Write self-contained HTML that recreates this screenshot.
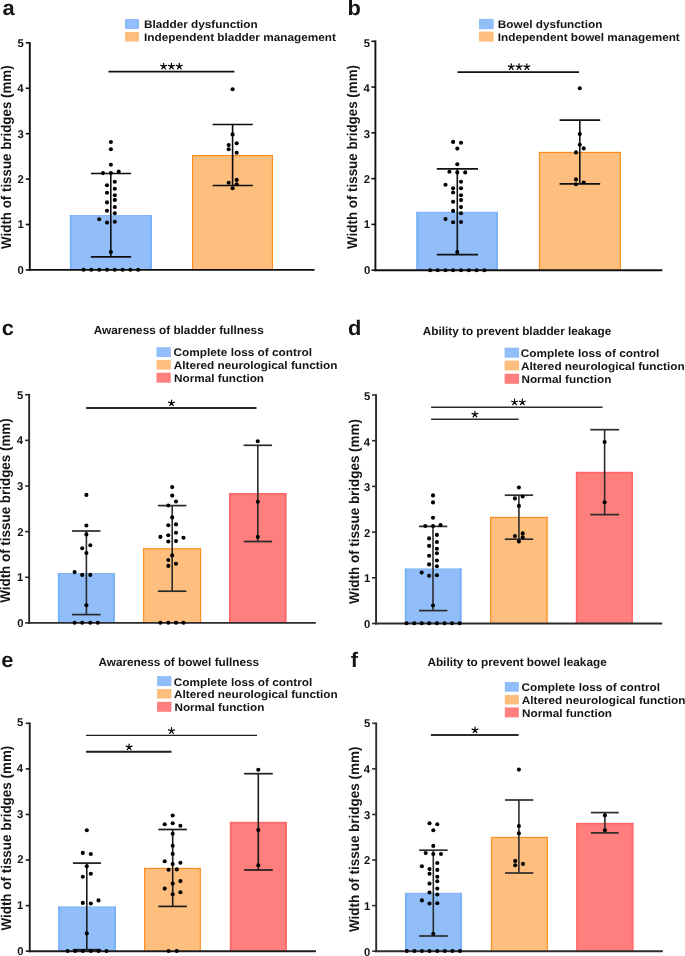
<!DOCTYPE html>
<html><head><meta charset="utf-8"><style>
html,body{margin:0;padding:0;background:#fff;overflow:hidden;width:685px;height:956px;}
svg{display:block;} text{-webkit-font-smoothing:antialiased;text-rendering:geometricPrecision;}
</style></head><body>
<svg style="will-change:transform" width="685" height="956" viewBox="0 0 685 956">
<rect width="685" height="956" fill="#fff"/>
<text transform="translate(2.56,15.00) scale(1.0400,1)" font-size="21" font-family='"Liberation Sans", sans-serif' font-weight="bold" fill="#141414">a</text>
<rect x="125.00" y="19.00" width="14.00" height="10.00" fill="#91bef9"/>
<text transform="translate(144.01,28.40) scale(1.0693,1)" font-size="11" font-family='"Liberation Sans", sans-serif' font-weight="bold" fill="#141414">Bladder dysfunction</text>
<rect x="125.00" y="32.00" width="14.00" height="9.50" fill="#fdbe7e"/>
<text transform="translate(144.01,40.90) scale(1.0718,1)" font-size="11" font-family='"Liberation Sans", sans-serif' font-weight="bold" fill="#141414">Independent bladder management</text>
<rect x="69.90" y="215.00" width="82.00" height="54.90" fill="#91bef9"/>
<rect x="69.90" y="215.00" width="82.00" height="1.3" fill="#86b8f8"/>
<rect x="69.90" y="215.00" width="1.8" height="54.90" fill="#76b0f7"/>
<rect x="150.10" y="215.00" width="1.8" height="54.90" fill="#76b0f7"/>
<rect x="192.00" y="155.00" width="81.00" height="114.90" fill="#fdbe7e"/>
<rect x="192.00" y="155.00" width="81.00" height="1.1" fill="#ff8c1a"/>
<rect x="192.00" y="155.00" width="1.1" height="114.90" fill="#ff8c1a"/>
<rect x="271.90" y="155.00" width="1.1" height="114.90" fill="#ff8c1a"/>
<line x1="29.80" y1="42.05" x2="29.80" y2="270.90" stroke="#0e0e0e" stroke-width="1.9"/>
<line x1="28.80" y1="269.90" x2="314.60" y2="269.90" stroke="#0e0e0e" stroke-width="1.9"/>
<line x1="25.80" y1="269.90" x2="29.80" y2="269.90" stroke="#0e0e0e" stroke-width="1.6"/>
<text transform="translate(17.58,273.62) scale(1.0000,1)" font-size="11.3" font-family='"Liberation Sans", sans-serif' font-weight="bold" fill="#141414">0</text>
<line x1="25.80" y1="224.49" x2="29.80" y2="224.49" stroke="#0e0e0e" stroke-width="1.6"/>
<text transform="translate(17.43,228.30) scale(1.0000,1)" font-size="11.3" font-family='"Liberation Sans", sans-serif' font-weight="bold" fill="#141414">1</text>
<line x1="25.80" y1="179.08" x2="29.80" y2="179.08" stroke="#0e0e0e" stroke-width="1.6"/>
<text transform="translate(17.57,182.98) scale(1.0000,1)" font-size="11.3" font-family='"Liberation Sans", sans-serif' font-weight="bold" fill="#141414">2</text>
<line x1="25.80" y1="133.67" x2="29.80" y2="133.67" stroke="#0e0e0e" stroke-width="1.6"/>
<text transform="translate(17.52,137.66) scale(1.0000,1)" font-size="11.3" font-family='"Liberation Sans", sans-serif' font-weight="bold" fill="#141414">3</text>
<line x1="25.80" y1="88.26" x2="29.80" y2="88.26" stroke="#0e0e0e" stroke-width="1.6"/>
<text transform="translate(17.18,92.34) scale(1.0000,1)" font-size="11.3" font-family='"Liberation Sans", sans-serif' font-weight="bold" fill="#141414">4</text>
<line x1="25.80" y1="42.85" x2="29.80" y2="42.85" stroke="#0e0e0e" stroke-width="1.6"/>
<text transform="translate(17.43,47.02) scale(1.0000,1)" font-size="11.3" font-family='"Liberation Sans", sans-serif' font-weight="bold" fill="#141414">5</text>
<text transform="translate(11.10,248.91) rotate(-90) scale(1.0024,1.0600)" font-size="13.3" font-family='"Liberation Sans", sans-serif' font-weight="bold" fill="#141414">Width of tissue bridges (mm)</text>
<line x1="110.80" y1="173.50" x2="110.80" y2="256.80" stroke="#0e0e0e" stroke-width="1.6"/>
<line x1="90.90" y1="173.50" x2="131.10" y2="173.50" stroke="#0e0e0e" stroke-width="1.7"/>
<line x1="90.90" y1="256.80" x2="131.10" y2="256.80" stroke="#0e0e0e" stroke-width="1.7"/>
<line x1="232.60" y1="124.50" x2="232.60" y2="185.50" stroke="#0e0e0e" stroke-width="1.6"/>
<line x1="212.60" y1="124.50" x2="252.80" y2="124.50" stroke="#0e0e0e" stroke-width="1.7"/>
<line x1="212.60" y1="185.50" x2="252.80" y2="185.50" stroke="#0e0e0e" stroke-width="1.7"/>
<circle cx="110.9" cy="142.0" r="2.05" fill="#000"/>
<circle cx="110.9" cy="149.2" r="2.05" fill="#000"/>
<circle cx="110.9" cy="164.7" r="2.05" fill="#000"/>
<circle cx="103.0" cy="173.1" r="2.05" fill="#000"/>
<circle cx="110.9" cy="173.1" r="2.05" fill="#000"/>
<circle cx="118.7" cy="171.6" r="2.05" fill="#000"/>
<circle cx="107.0" cy="185.2" r="2.05" fill="#000"/>
<circle cx="114.8" cy="181.8" r="2.05" fill="#000"/>
<circle cx="114.8" cy="188.7" r="2.05" fill="#000"/>
<circle cx="107.0" cy="192.8" r="2.05" fill="#000"/>
<circle cx="114.8" cy="195.3" r="2.05" fill="#000"/>
<circle cx="114.8" cy="199.9" r="2.05" fill="#000"/>
<circle cx="107.0" cy="202.4" r="2.05" fill="#000"/>
<circle cx="114.8" cy="207.0" r="2.05" fill="#000"/>
<circle cx="107.0" cy="210.8" r="2.05" fill="#000"/>
<circle cx="114.8" cy="213.3" r="2.05" fill="#000"/>
<circle cx="99.2" cy="219.2" r="2.05" fill="#000"/>
<circle cx="107.0" cy="222.6" r="2.05" fill="#000"/>
<circle cx="114.8" cy="221.8" r="2.05" fill="#000"/>
<circle cx="110.9" cy="252.1" r="2.05" fill="#000"/>
<circle cx="83.5" cy="269.7" r="2.05" fill="#000"/>
<circle cx="91.3" cy="269.7" r="2.05" fill="#000"/>
<circle cx="99.2" cy="269.7" r="2.05" fill="#000"/>
<circle cx="107.0" cy="269.7" r="2.05" fill="#000"/>
<circle cx="114.8" cy="269.7" r="2.05" fill="#000"/>
<circle cx="122.6" cy="269.7" r="2.05" fill="#000"/>
<circle cx="130.4" cy="269.7" r="2.05" fill="#000"/>
<circle cx="138.2" cy="269.7" r="2.05" fill="#000"/>
<circle cx="232.6" cy="89.2" r="2.05" fill="#000"/>
<circle cx="232.6" cy="134.4" r="2.05" fill="#000"/>
<circle cx="236.7" cy="143.2" r="2.05" fill="#000"/>
<circle cx="228.7" cy="145.1" r="2.05" fill="#000"/>
<circle cx="228.7" cy="149.3" r="2.05" fill="#000"/>
<circle cx="236.7" cy="152.8" r="2.05" fill="#000"/>
<circle cx="236.7" cy="179.9" r="2.05" fill="#000"/>
<circle cx="228.7" cy="182.7" r="2.05" fill="#000"/>
<circle cx="236.7" cy="184.2" r="2.05" fill="#000"/>
<circle cx="232.6" cy="188.2" r="2.05" fill="#000"/>
<line x1="108.50" y1="71.60" x2="234.40" y2="71.60" stroke="#0e0e0e" stroke-width="1.8"/>
<path d="M163.65,66.40L163.65,63.30M163.65,66.40L166.60,65.44M163.65,66.40L165.47,68.91M163.65,66.40L161.83,68.91M163.65,66.40L160.70,65.44" stroke="#000" stroke-width="1.2" stroke-linecap="round" fill="none"/>
<path d="M171.45,66.40L171.45,63.30M171.45,66.40L174.40,65.44M171.45,66.40L173.27,68.91M171.45,66.40L169.63,68.91M171.45,66.40L168.50,65.44" stroke="#000" stroke-width="1.2" stroke-linecap="round" fill="none"/>
<path d="M179.25,66.40L179.25,63.30M179.25,66.40L182.20,65.44M179.25,66.40L181.07,68.91M179.25,66.40L177.43,68.91M179.25,66.40L176.30,65.44" stroke="#000" stroke-width="1.2" stroke-linecap="round" fill="none"/>
<text transform="translate(347.56,15.10) scale(1.0400,1)" font-size="21" font-family='"Liberation Sans", sans-serif' font-weight="bold" fill="#141414">b</text>
<rect x="479.00" y="18.90" width="14.70" height="10.30" fill="#91bef9"/>
<text transform="translate(497.81,27.90) scale(1.0689,1)" font-size="11" font-family='"Liberation Sans", sans-serif' font-weight="bold" fill="#141414">Bowel dysfunction</text>
<rect x="479.00" y="31.60" width="14.70" height="10.00" fill="#fdbe7e"/>
<text transform="translate(497.81,40.80) scale(1.0669,1)" font-size="11" font-family='"Liberation Sans", sans-serif' font-weight="bold" fill="#141414">Independent bowel management</text>
<rect x="416.40" y="211.90" width="81.40" height="58.30" fill="#91bef9"/>
<rect x="416.40" y="211.90" width="81.40" height="1.3" fill="#86b8f8"/>
<rect x="416.40" y="211.90" width="1.8" height="58.30" fill="#76b0f7"/>
<rect x="496.00" y="211.90" width="1.8" height="58.30" fill="#76b0f7"/>
<rect x="538.90" y="151.90" width="82.00" height="118.30" fill="#fdbe7e"/>
<rect x="538.90" y="151.90" width="82.00" height="1.1" fill="#ff8c1a"/>
<rect x="538.90" y="151.90" width="1.1" height="118.30" fill="#ff8c1a"/>
<rect x="619.80" y="151.90" width="1.1" height="118.30" fill="#ff8c1a"/>
<line x1="375.40" y1="40.50" x2="375.40" y2="271.20" stroke="#111111" stroke-width="1.9"/>
<line x1="374.40" y1="270.20" x2="662.30" y2="270.20" stroke="#111111" stroke-width="1.9"/>
<line x1="371.40" y1="270.20" x2="375.40" y2="270.20" stroke="#111111" stroke-width="1.6"/>
<text transform="translate(363.88,273.82) scale(1.0000,1)" font-size="11.3" font-family='"Liberation Sans", sans-serif' font-weight="bold" fill="#141414">0</text>
<line x1="371.40" y1="224.42" x2="375.40" y2="224.42" stroke="#111111" stroke-width="1.6"/>
<text transform="translate(363.73,228.46) scale(1.0000,1)" font-size="11.3" font-family='"Liberation Sans", sans-serif' font-weight="bold" fill="#141414">1</text>
<line x1="371.40" y1="178.64" x2="375.40" y2="178.64" stroke="#111111" stroke-width="1.6"/>
<text transform="translate(363.87,183.10) scale(1.0000,1)" font-size="11.3" font-family='"Liberation Sans", sans-serif' font-weight="bold" fill="#141414">2</text>
<line x1="371.40" y1="132.86" x2="375.40" y2="132.86" stroke="#111111" stroke-width="1.6"/>
<text transform="translate(363.82,137.74) scale(1.0000,1)" font-size="11.3" font-family='"Liberation Sans", sans-serif' font-weight="bold" fill="#141414">3</text>
<line x1="371.40" y1="87.08" x2="375.40" y2="87.08" stroke="#111111" stroke-width="1.6"/>
<text transform="translate(363.48,92.38) scale(1.0000,1)" font-size="11.3" font-family='"Liberation Sans", sans-serif' font-weight="bold" fill="#141414">4</text>
<line x1="371.40" y1="41.30" x2="375.40" y2="41.30" stroke="#111111" stroke-width="1.6"/>
<text transform="translate(363.73,47.02) scale(1.0000,1)" font-size="11.3" font-family='"Liberation Sans", sans-serif' font-weight="bold" fill="#141414">5</text>
<text transform="translate(356.80,248.91) rotate(-90) scale(1.0045,1.0600)" font-size="13.3" font-family='"Liberation Sans", sans-serif' font-weight="bold" fill="#141414">Width of tissue bridges (mm)</text>
<line x1="457.30" y1="168.90" x2="457.30" y2="254.70" stroke="#111111" stroke-width="1.6"/>
<line x1="436.80" y1="168.90" x2="478.00" y2="168.90" stroke="#111111" stroke-width="1.7"/>
<line x1="436.80" y1="254.70" x2="478.00" y2="254.70" stroke="#111111" stroke-width="1.7"/>
<line x1="579.80" y1="120.10" x2="579.80" y2="183.80" stroke="#111111" stroke-width="1.6"/>
<line x1="559.60" y1="120.10" x2="600.20" y2="120.10" stroke="#111111" stroke-width="1.7"/>
<line x1="559.60" y1="183.80" x2="600.20" y2="183.80" stroke="#111111" stroke-width="1.7"/>
<circle cx="453.1" cy="141.9" r="2.05" fill="#000"/>
<circle cx="461.0" cy="142.8" r="2.05" fill="#000"/>
<circle cx="457.3" cy="148.6" r="2.05" fill="#000"/>
<circle cx="457.3" cy="164.2" r="2.05" fill="#000"/>
<circle cx="449.4" cy="171.7" r="2.05" fill="#000"/>
<circle cx="457.3" cy="172.4" r="2.05" fill="#000"/>
<circle cx="465.2" cy="172.4" r="2.05" fill="#000"/>
<circle cx="461.0" cy="181.7" r="2.05" fill="#000"/>
<circle cx="445.5" cy="184.8" r="2.05" fill="#000"/>
<circle cx="453.1" cy="188.2" r="2.05" fill="#000"/>
<circle cx="461.0" cy="188.3" r="2.05" fill="#000"/>
<circle cx="453.1" cy="192.5" r="2.05" fill="#000"/>
<circle cx="461.0" cy="195.3" r="2.05" fill="#000"/>
<circle cx="461.0" cy="200.1" r="2.05" fill="#000"/>
<circle cx="453.1" cy="201.8" r="2.05" fill="#000"/>
<circle cx="461.0" cy="207.1" r="2.05" fill="#000"/>
<circle cx="453.1" cy="210.9" r="2.05" fill="#000"/>
<circle cx="461.0" cy="213.2" r="2.05" fill="#000"/>
<circle cx="445.5" cy="219.0" r="2.05" fill="#000"/>
<circle cx="453.1" cy="222.3" r="2.05" fill="#000"/>
<circle cx="461.0" cy="222.0" r="2.05" fill="#000"/>
<circle cx="457.3" cy="252.1" r="2.05" fill="#000"/>
<circle cx="430.1" cy="270.2" r="2.05" fill="#000"/>
<circle cx="437.7" cy="270.2" r="2.05" fill="#000"/>
<circle cx="445.5" cy="270.2" r="2.05" fill="#000"/>
<circle cx="453.1" cy="270.2" r="2.05" fill="#000"/>
<circle cx="461.0" cy="270.2" r="2.05" fill="#000"/>
<circle cx="468.9" cy="270.2" r="2.05" fill="#000"/>
<circle cx="476.6" cy="270.2" r="2.05" fill="#000"/>
<circle cx="484.4" cy="270.2" r="2.05" fill="#000"/>
<circle cx="579.8" cy="88.2" r="2.05" fill="#000"/>
<circle cx="579.8" cy="134.1" r="2.05" fill="#000"/>
<circle cx="579.8" cy="144.7" r="2.05" fill="#000"/>
<circle cx="583.7" cy="148.4" r="2.05" fill="#000"/>
<circle cx="576.0" cy="152.4" r="2.05" fill="#000"/>
<circle cx="576.0" cy="179.4" r="2.05" fill="#000"/>
<circle cx="583.7" cy="182.5" r="2.05" fill="#000"/>
<circle cx="576.0" cy="184.2" r="2.05" fill="#000"/>
<line x1="457.50" y1="72.05" x2="579.00" y2="72.05" stroke="#111111" stroke-width="1.8"/>
<path d="M511.25,66.90L511.25,63.80M511.25,66.90L514.20,65.94M511.25,66.90L513.07,69.41M511.25,66.90L509.43,69.41M511.25,66.90L508.30,65.94" stroke="#000" stroke-width="1.2" stroke-linecap="round" fill="none"/>
<path d="M519.05,66.90L519.05,63.80M519.05,66.90L522.00,65.94M519.05,66.90L520.87,69.41M519.05,66.90L517.23,69.41M519.05,66.90L516.10,65.94" stroke="#000" stroke-width="1.2" stroke-linecap="round" fill="none"/>
<path d="M526.85,66.90L526.85,63.80M526.85,66.90L529.80,65.94M526.85,66.90L528.67,69.41M526.85,66.90L525.03,69.41M526.85,66.90L523.90,65.94" stroke="#000" stroke-width="1.2" stroke-linecap="round" fill="none"/>
<text transform="translate(1.75,335.40) scale(1.0400,1)" font-size="21" font-family='"Liberation Sans", sans-serif' font-weight="bold" fill="#141414">c</text>
<text transform="translate(93.81,334.40) scale(1.0153,1)" font-size="11.6" font-family='"Liberation Sans", sans-serif' font-weight="bold" fill="#141414">Awareness of bladder fullness</text>
<rect x="156.50" y="347.20" width="14.30" height="9.80" fill="#91bef9"/>
<text transform="translate(173.52,356.40) scale(1.0742,1)" font-size="11" font-family='"Liberation Sans", sans-serif' font-weight="bold" fill="#141414">Complete loss of control</text>
<rect x="156.50" y="360.00" width="14.30" height="9.60" fill="#fdbe7e"/>
<text transform="translate(173.71,369.00) scale(1.0709,1)" font-size="11" font-family='"Liberation Sans", sans-serif' font-weight="bold" fill="#141414">Altered neurological function</text>
<rect x="156.50" y="372.70" width="14.30" height="10.00" fill="#ff7f7f"/>
<text transform="translate(174.12,382.10) scale(1.0662,1)" font-size="11" font-family='"Liberation Sans", sans-serif' font-weight="bold" fill="#141414">Normal function</text>
<rect x="57.90" y="573.00" width="56.90" height="49.90" fill="#91bef9"/>
<rect x="57.90" y="573.00" width="56.90" height="1.3" fill="#86b8f8"/>
<rect x="57.90" y="573.00" width="1.8" height="49.90" fill="#76b0f7"/>
<rect x="113.00" y="573.00" width="1.8" height="49.90" fill="#76b0f7"/>
<rect x="143.10" y="548.30" width="58.00" height="74.60" fill="#fdbe7e"/>
<rect x="143.10" y="548.30" width="58.00" height="1.1" fill="#ff8c1a"/>
<rect x="143.10" y="548.30" width="1.1" height="74.60" fill="#ff8c1a"/>
<rect x="200.00" y="548.30" width="1.1" height="74.60" fill="#ff8c1a"/>
<rect x="229.10" y="493.00" width="57.30" height="129.90" fill="#ff7f7f"/>
<rect x="229.10" y="493.00" width="57.30" height="1.5" fill="#ff6666"/>
<rect x="229.10" y="493.00" width="1.7" height="129.90" fill="#ff6868"/>
<rect x="284.70" y="493.00" width="1.7" height="129.90" fill="#ff6868"/>
<line x1="29.15" y1="393.90" x2="29.15" y2="623.90" stroke="#2a2a2a" stroke-width="1.9"/>
<line x1="28.15" y1="622.90" x2="315.80" y2="622.90" stroke="#2a2a2a" stroke-width="1.9"/>
<line x1="25.15" y1="622.90" x2="29.15" y2="622.90" stroke="#2a2a2a" stroke-width="1.6"/>
<text transform="translate(17.18,627.07) scale(1.0000,1)" font-size="11.3" font-family='"Liberation Sans", sans-serif' font-weight="bold" fill="#141414">0</text>
<line x1="25.15" y1="577.26" x2="29.15" y2="577.26" stroke="#2a2a2a" stroke-width="1.6"/>
<text transform="translate(17.03,581.41) scale(1.0000,1)" font-size="11.3" font-family='"Liberation Sans", sans-serif' font-weight="bold" fill="#141414">1</text>
<line x1="25.15" y1="531.62" x2="29.15" y2="531.62" stroke="#2a2a2a" stroke-width="1.6"/>
<text transform="translate(17.17,535.75) scale(1.0000,1)" font-size="11.3" font-family='"Liberation Sans", sans-serif' font-weight="bold" fill="#141414">2</text>
<line x1="25.15" y1="485.98" x2="29.15" y2="485.98" stroke="#2a2a2a" stroke-width="1.6"/>
<text transform="translate(17.12,490.09) scale(1.0000,1)" font-size="11.3" font-family='"Liberation Sans", sans-serif' font-weight="bold" fill="#141414">3</text>
<line x1="25.15" y1="440.34" x2="29.15" y2="440.34" stroke="#2a2a2a" stroke-width="1.6"/>
<text transform="translate(16.78,444.43) scale(1.0000,1)" font-size="11.3" font-family='"Liberation Sans", sans-serif' font-weight="bold" fill="#141414">4</text>
<line x1="25.15" y1="394.70" x2="29.15" y2="394.70" stroke="#2a2a2a" stroke-width="1.6"/>
<text transform="translate(17.03,398.77) scale(1.0000,1)" font-size="11.3" font-family='"Liberation Sans", sans-serif' font-weight="bold" fill="#141414">5</text>
<text transform="translate(10.10,602.81) rotate(-90) scale(1.0078,1.0600)" font-size="13.3" font-family='"Liberation Sans", sans-serif' font-weight="bold" fill="#141414">Width of tissue bridges (mm)</text>
<line x1="86.40" y1="531.00" x2="86.40" y2="614.60" stroke="#2a2a2a" stroke-width="1.6"/>
<line x1="72.00" y1="531.00" x2="100.50" y2="531.00" stroke="#2a2a2a" stroke-width="1.7"/>
<line x1="72.00" y1="614.60" x2="100.50" y2="614.60" stroke="#2a2a2a" stroke-width="1.7"/>
<line x1="172.20" y1="505.60" x2="172.20" y2="591.20" stroke="#2a2a2a" stroke-width="1.6"/>
<line x1="157.90" y1="505.60" x2="186.40" y2="505.60" stroke="#2a2a2a" stroke-width="1.7"/>
<line x1="157.90" y1="591.20" x2="186.40" y2="591.20" stroke="#2a2a2a" stroke-width="1.7"/>
<line x1="257.80" y1="445.30" x2="257.80" y2="541.50" stroke="#2a2a2a" stroke-width="1.6"/>
<line x1="243.70" y1="445.30" x2="272.10" y2="445.30" stroke="#2a2a2a" stroke-width="1.7"/>
<line x1="243.70" y1="541.50" x2="272.10" y2="541.50" stroke="#2a2a2a" stroke-width="1.7"/>
<circle cx="86.4" cy="494.9" r="2.05" fill="#000"/>
<circle cx="86.4" cy="525.5" r="2.05" fill="#000"/>
<circle cx="86.4" cy="534.4" r="2.05" fill="#000"/>
<circle cx="90.3" cy="545.3" r="2.05" fill="#000"/>
<circle cx="82.2" cy="548.3" r="2.05" fill="#000"/>
<circle cx="86.4" cy="553.0" r="2.05" fill="#000"/>
<circle cx="74.6" cy="572.1" r="2.05" fill="#000"/>
<circle cx="82.2" cy="574.9" r="2.05" fill="#000"/>
<circle cx="90.3" cy="574.9" r="2.05" fill="#000"/>
<circle cx="86.4" cy="605.2" r="2.05" fill="#000"/>
<circle cx="74.6" cy="622.8" r="2.05" fill="#000"/>
<circle cx="82.2" cy="622.8" r="2.05" fill="#000"/>
<circle cx="90.3" cy="622.8" r="2.05" fill="#000"/>
<circle cx="97.8" cy="622.8" r="2.05" fill="#000"/>
<circle cx="172.2" cy="487.1" r="2.05" fill="#000"/>
<circle cx="172.2" cy="495.6" r="2.05" fill="#000"/>
<circle cx="176.0" cy="501.5" r="2.05" fill="#000"/>
<circle cx="168.3" cy="505.5" r="2.05" fill="#000"/>
<circle cx="172.2" cy="517.4" r="2.05" fill="#000"/>
<circle cx="168.3" cy="525.2" r="2.05" fill="#000"/>
<circle cx="176.0" cy="524.4" r="2.05" fill="#000"/>
<circle cx="176.0" cy="532.8" r="2.05" fill="#000"/>
<circle cx="160.4" cy="536.9" r="2.05" fill="#000"/>
<circle cx="168.3" cy="535.3" r="2.05" fill="#000"/>
<circle cx="183.5" cy="537.8" r="2.05" fill="#000"/>
<circle cx="168.3" cy="541.5" r="2.05" fill="#000"/>
<circle cx="176.0" cy="541.1" r="2.05" fill="#000"/>
<circle cx="172.2" cy="555.4" r="2.05" fill="#000"/>
<circle cx="168.3" cy="560.0" r="2.05" fill="#000"/>
<circle cx="176.0" cy="563.7" r="2.05" fill="#000"/>
<circle cx="168.3" cy="565.9" r="2.05" fill="#000"/>
<circle cx="160.4" cy="622.8" r="2.05" fill="#000"/>
<circle cx="168.3" cy="622.8" r="2.05" fill="#000"/>
<circle cx="176.0" cy="622.8" r="2.05" fill="#000"/>
<circle cx="183.5" cy="622.8" r="2.05" fill="#000"/>
<circle cx="257.8" cy="441.3" r="2.05" fill="#000"/>
<circle cx="257.8" cy="501.7" r="2.05" fill="#000"/>
<circle cx="257.8" cy="536.9" r="2.05" fill="#000"/>
<line x1="86.10" y1="408.00" x2="256.50" y2="408.00" stroke="#2a2a2a" stroke-width="1.9"/>
<path d="M171.55,403.10L171.55,400.00M171.55,403.10L174.50,402.14M171.55,403.10L173.37,405.61M171.55,403.10L169.73,405.61M171.55,403.10L168.60,402.14" stroke="#000" stroke-width="1.2" stroke-linecap="round" fill="none"/>
<text transform="translate(347.90,335.10) scale(1.0400,1)" font-size="21" font-family='"Liberation Sans", sans-serif' font-weight="bold" fill="#141414">d</text>
<text transform="translate(422.71,335.30) scale(1.0159,1)" font-size="11.6" font-family='"Liberation Sans", sans-serif' font-weight="bold" fill="#141414">Ability to prevent bladder leakage</text>
<rect x="504.60" y="347.70" width="14.50" height="10.00" fill="#91bef9"/>
<text transform="translate(520.82,357.10) scale(1.0742,1)" font-size="11" font-family='"Liberation Sans", sans-serif' font-weight="bold" fill="#141414">Complete loss of control</text>
<rect x="504.60" y="360.60" width="14.50" height="9.90" fill="#fdbe7e"/>
<text transform="translate(521.01,369.90) scale(1.0709,1)" font-size="11" font-family='"Liberation Sans", sans-serif' font-weight="bold" fill="#141414">Altered neurological function</text>
<rect x="504.60" y="373.70" width="14.50" height="10.10" fill="#ff7f7f"/>
<text transform="translate(521.42,383.20) scale(1.0662,1)" font-size="11" font-family='"Liberation Sans", sans-serif' font-weight="bold" fill="#141414">Normal function</text>
<rect x="404.90" y="568.60" width="56.60" height="54.90" fill="#91bef9"/>
<rect x="404.90" y="568.60" width="56.60" height="1.3" fill="#86b8f8"/>
<rect x="404.90" y="568.60" width="1.8" height="54.90" fill="#76b0f7"/>
<rect x="459.70" y="568.60" width="1.8" height="54.90" fill="#76b0f7"/>
<rect x="490.10" y="516.90" width="57.50" height="106.60" fill="#fdbe7e"/>
<rect x="490.10" y="516.90" width="57.50" height="1.1" fill="#ff8c1a"/>
<rect x="490.10" y="516.90" width="1.1" height="106.60" fill="#ff8c1a"/>
<rect x="546.50" y="516.90" width="1.1" height="106.60" fill="#ff8c1a"/>
<rect x="575.90" y="471.90" width="57.10" height="151.60" fill="#ff7f7f"/>
<rect x="575.90" y="471.90" width="57.10" height="1.5" fill="#ff6666"/>
<rect x="575.90" y="471.90" width="1.7" height="151.60" fill="#ff6868"/>
<rect x="631.30" y="471.90" width="1.7" height="151.60" fill="#ff6868"/>
<line x1="376.05" y1="394.20" x2="376.05" y2="624.50" stroke="#2c2c2c" stroke-width="1.9"/>
<line x1="375.05" y1="623.50" x2="662.20" y2="623.50" stroke="#2c2c2c" stroke-width="1.9"/>
<line x1="372.05" y1="623.50" x2="376.05" y2="623.50" stroke="#2c2c2c" stroke-width="1.6"/>
<text transform="translate(364.08,627.87) scale(1.0000,1)" font-size="11.3" font-family='"Liberation Sans", sans-serif' font-weight="bold" fill="#141414">0</text>
<line x1="372.05" y1="577.80" x2="376.05" y2="577.80" stroke="#2c2c2c" stroke-width="1.6"/>
<text transform="translate(363.93,582.30) scale(1.0000,1)" font-size="11.3" font-family='"Liberation Sans", sans-serif' font-weight="bold" fill="#141414">1</text>
<line x1="372.05" y1="532.10" x2="376.05" y2="532.10" stroke="#2c2c2c" stroke-width="1.6"/>
<text transform="translate(364.07,536.73) scale(1.0000,1)" font-size="11.3" font-family='"Liberation Sans", sans-serif' font-weight="bold" fill="#141414">2</text>
<line x1="372.05" y1="486.40" x2="376.05" y2="486.40" stroke="#2c2c2c" stroke-width="1.6"/>
<text transform="translate(364.02,491.16) scale(1.0000,1)" font-size="11.3" font-family='"Liberation Sans", sans-serif' font-weight="bold" fill="#141414">3</text>
<line x1="372.05" y1="440.70" x2="376.05" y2="440.70" stroke="#2c2c2c" stroke-width="1.6"/>
<text transform="translate(363.68,445.59) scale(1.0000,1)" font-size="11.3" font-family='"Liberation Sans", sans-serif' font-weight="bold" fill="#141414">4</text>
<line x1="372.05" y1="395.00" x2="376.05" y2="395.00" stroke="#2c2c2c" stroke-width="1.6"/>
<text transform="translate(363.93,400.02) scale(1.0000,1)" font-size="11.3" font-family='"Liberation Sans", sans-serif' font-weight="bold" fill="#141414">5</text>
<text transform="translate(359.40,603.91) rotate(-90) scale(1.0095,1.0600)" font-size="13.3" font-family='"Liberation Sans", sans-serif' font-weight="bold" fill="#141414">Width of tissue bridges (mm)</text>
<line x1="433.00" y1="526.40" x2="433.00" y2="610.60" stroke="#2c2c2c" stroke-width="1.6"/>
<line x1="419.00" y1="526.40" x2="447.30" y2="526.40" stroke="#2c2c2c" stroke-width="1.7"/>
<line x1="419.00" y1="610.60" x2="447.30" y2="610.60" stroke="#2c2c2c" stroke-width="1.7"/>
<line x1="518.90" y1="495.20" x2="518.90" y2="539.20" stroke="#2c2c2c" stroke-width="1.6"/>
<line x1="504.80" y1="495.20" x2="533.10" y2="495.20" stroke="#2c2c2c" stroke-width="1.7"/>
<line x1="504.80" y1="539.20" x2="533.10" y2="539.20" stroke="#2c2c2c" stroke-width="1.7"/>
<line x1="604.60" y1="429.70" x2="604.60" y2="514.60" stroke="#2c2c2c" stroke-width="1.6"/>
<line x1="590.30" y1="429.70" x2="619.10" y2="429.70" stroke="#2c2c2c" stroke-width="1.7"/>
<line x1="590.30" y1="514.60" x2="619.10" y2="514.60" stroke="#2c2c2c" stroke-width="1.7"/>
<circle cx="433.0" cy="495.4" r="2.05" fill="#000"/>
<circle cx="433.0" cy="502.4" r="2.05" fill="#000"/>
<circle cx="433.0" cy="517.7" r="2.05" fill="#000"/>
<circle cx="425.3" cy="526.0" r="2.05" fill="#000"/>
<circle cx="433.0" cy="526.0" r="2.05" fill="#000"/>
<circle cx="440.5" cy="525.0" r="2.05" fill="#000"/>
<circle cx="436.9" cy="534.9" r="2.05" fill="#000"/>
<circle cx="429.1" cy="538.4" r="2.05" fill="#000"/>
<circle cx="436.9" cy="542.0" r="2.05" fill="#000"/>
<circle cx="429.1" cy="545.9" r="2.05" fill="#000"/>
<circle cx="436.9" cy="548.7" r="2.05" fill="#000"/>
<circle cx="436.9" cy="553.3" r="2.05" fill="#000"/>
<circle cx="429.1" cy="555.8" r="2.05" fill="#000"/>
<circle cx="436.9" cy="560.5" r="2.05" fill="#000"/>
<circle cx="429.1" cy="564.4" r="2.05" fill="#000"/>
<circle cx="436.9" cy="566.3" r="2.05" fill="#000"/>
<circle cx="421.7" cy="572.6" r="2.05" fill="#000"/>
<circle cx="429.1" cy="575.7" r="2.05" fill="#000"/>
<circle cx="436.9" cy="575.2" r="2.05" fill="#000"/>
<circle cx="433.0" cy="605.5" r="2.05" fill="#000"/>
<circle cx="406.5" cy="623.3" r="2.05" fill="#000"/>
<circle cx="414.2" cy="623.3" r="2.05" fill="#000"/>
<circle cx="421.7" cy="623.3" r="2.05" fill="#000"/>
<circle cx="429.2" cy="623.3" r="2.05" fill="#000"/>
<circle cx="436.9" cy="623.3" r="2.05" fill="#000"/>
<circle cx="444.5" cy="623.3" r="2.05" fill="#000"/>
<circle cx="452.0" cy="623.3" r="2.05" fill="#000"/>
<circle cx="459.7" cy="623.3" r="2.05" fill="#000"/>
<circle cx="518.9" cy="487.5" r="2.05" fill="#000"/>
<circle cx="514.9" cy="498.4" r="2.05" fill="#000"/>
<circle cx="522.7" cy="496.5" r="2.05" fill="#000"/>
<circle cx="518.9" cy="505.9" r="2.05" fill="#000"/>
<circle cx="514.9" cy="536.0" r="2.05" fill="#000"/>
<circle cx="522.7" cy="533.4" r="2.05" fill="#000"/>
<circle cx="522.7" cy="537.3" r="2.05" fill="#000"/>
<circle cx="518.9" cy="541.5" r="2.05" fill="#000"/>
<circle cx="604.6" cy="442.1" r="2.05" fill="#000"/>
<circle cx="604.6" cy="502.2" r="2.05" fill="#000"/>
<line x1="431.10" y1="407.30" x2="602.50" y2="407.30" stroke="#2c2c2c" stroke-width="1.6"/>
<path d="M514.55,402.20L514.55,399.10M514.55,402.20L517.50,401.24M514.55,402.20L516.37,404.71M514.55,402.20L512.73,404.71M514.55,402.20L511.60,401.24" stroke="#000" stroke-width="1.2" stroke-linecap="round" fill="none"/>
<path d="M522.35,402.20L522.35,399.10M522.35,402.20L525.30,401.24M522.35,402.20L524.17,404.71M522.35,402.20L520.53,404.71M522.35,402.20L519.40,401.24" stroke="#000" stroke-width="1.2" stroke-linecap="round" fill="none"/>
<line x1="431.10" y1="419.30" x2="518.60" y2="419.30" stroke="#2c2c2c" stroke-width="1.5"/>
<path d="M474.90,414.40L474.90,411.30M474.90,414.40L477.85,413.44M474.90,414.40L476.72,416.91M474.90,414.40L473.08,416.91M474.90,414.40L471.95,413.44" stroke="#000" stroke-width="1.2" stroke-linecap="round" fill="none"/>
<text transform="translate(1.25,666.90) scale(1.0400,1)" font-size="21" font-family='"Liberation Sans", sans-serif' font-weight="bold" fill="#141414">e</text>
<text transform="translate(98.51,666.00) scale(1.0145,1)" font-size="11.6" font-family='"Liberation Sans", sans-serif' font-weight="bold" fill="#141414">Awareness of bowel fullness</text>
<rect x="157.10" y="676.10" width="14.30" height="10.00" fill="#91bef9"/>
<text transform="translate(173.82,685.50) scale(1.0742,1)" font-size="11" font-family='"Liberation Sans", sans-serif' font-weight="bold" fill="#141414">Complete loss of control</text>
<rect x="157.10" y="689.00" width="14.30" height="9.60" fill="#fdbe7e"/>
<text transform="translate(174.01,698.00) scale(1.0709,1)" font-size="11" font-family='"Liberation Sans", sans-serif' font-weight="bold" fill="#141414">Altered neurological function</text>
<rect x="157.10" y="701.80" width="14.30" height="10.00" fill="#ff7f7f"/>
<text transform="translate(174.42,711.20) scale(1.0662,1)" font-size="11" font-family='"Liberation Sans", sans-serif' font-weight="bold" fill="#141414">Normal function</text>
<rect x="58.30" y="906.60" width="57.60" height="44.60" fill="#91bef9"/>
<rect x="58.30" y="906.60" width="57.60" height="1.3" fill="#86b8f8"/>
<rect x="58.30" y="906.60" width="1.8" height="44.60" fill="#76b0f7"/>
<rect x="114.10" y="906.60" width="1.8" height="44.60" fill="#76b0f7"/>
<rect x="144.10" y="867.90" width="56.70" height="83.30" fill="#fdbe7e"/>
<rect x="144.10" y="867.90" width="56.70" height="1.1" fill="#ff8c1a"/>
<rect x="144.10" y="867.90" width="1.1" height="83.30" fill="#ff8c1a"/>
<rect x="199.70" y="867.90" width="1.1" height="83.30" fill="#ff8c1a"/>
<rect x="229.90" y="821.90" width="56.90" height="129.30" fill="#ff7f7f"/>
<rect x="229.90" y="821.90" width="56.90" height="1.5" fill="#ff6666"/>
<rect x="229.90" y="821.90" width="1.7" height="129.30" fill="#ff6868"/>
<rect x="285.10" y="821.90" width="1.7" height="129.30" fill="#ff6868"/>
<line x1="29.75" y1="722.50" x2="29.75" y2="952.20" stroke="#1c1c1c" stroke-width="1.9"/>
<line x1="28.75" y1="951.20" x2="315.90" y2="951.20" stroke="#1c1c1c" stroke-width="1.9"/>
<line x1="25.75" y1="951.20" x2="29.75" y2="951.20" stroke="#1c1c1c" stroke-width="1.6"/>
<text transform="translate(17.18,954.82) scale(1.0000,1)" font-size="11.3" font-family='"Liberation Sans", sans-serif' font-weight="bold" fill="#141414">0</text>
<line x1="25.75" y1="905.62" x2="29.75" y2="905.62" stroke="#1c1c1c" stroke-width="1.6"/>
<text transform="translate(17.03,909.07) scale(1.0000,1)" font-size="11.3" font-family='"Liberation Sans", sans-serif' font-weight="bold" fill="#141414">1</text>
<line x1="25.75" y1="860.04" x2="29.75" y2="860.04" stroke="#1c1c1c" stroke-width="1.6"/>
<text transform="translate(17.17,863.32) scale(1.0000,1)" font-size="11.3" font-family='"Liberation Sans", sans-serif' font-weight="bold" fill="#141414">2</text>
<line x1="25.75" y1="814.46" x2="29.75" y2="814.46" stroke="#1c1c1c" stroke-width="1.6"/>
<text transform="translate(17.12,817.57) scale(1.0000,1)" font-size="11.3" font-family='"Liberation Sans", sans-serif' font-weight="bold" fill="#141414">3</text>
<line x1="25.75" y1="768.88" x2="29.75" y2="768.88" stroke="#1c1c1c" stroke-width="1.6"/>
<text transform="translate(16.78,771.82) scale(1.0000,1)" font-size="11.3" font-family='"Liberation Sans", sans-serif' font-weight="bold" fill="#141414">4</text>
<line x1="25.75" y1="723.30" x2="29.75" y2="723.30" stroke="#1c1c1c" stroke-width="1.6"/>
<text transform="translate(17.03,726.07) scale(1.0000,1)" font-size="11.3" font-family='"Liberation Sans", sans-serif' font-weight="bold" fill="#141414">5</text>
<text transform="translate(10.90,930.61) rotate(-90) scale(1.0100,1.0600)" font-size="13.3" font-family='"Liberation Sans", sans-serif' font-weight="bold" fill="#141414">Width of tissue bridges (mm)</text>
<line x1="86.80" y1="863.10" x2="86.80" y2="949.70" stroke="#1c1c1c" stroke-width="1.6"/>
<line x1="72.90" y1="863.10" x2="101.10" y2="863.10" stroke="#1c1c1c" stroke-width="1.7"/>
<line x1="72.90" y1="949.70" x2="101.10" y2="949.70" stroke="#1c1c1c" stroke-width="1.7"/>
<line x1="172.70" y1="829.50" x2="172.70" y2="906.40" stroke="#1c1c1c" stroke-width="1.6"/>
<line x1="158.30" y1="829.50" x2="186.90" y2="829.50" stroke="#1c1c1c" stroke-width="1.7"/>
<line x1="158.30" y1="906.40" x2="186.90" y2="906.40" stroke="#1c1c1c" stroke-width="1.7"/>
<line x1="258.30" y1="773.70" x2="258.30" y2="870.00" stroke="#1c1c1c" stroke-width="1.6"/>
<line x1="244.10" y1="773.70" x2="272.80" y2="773.70" stroke="#1c1c1c" stroke-width="1.7"/>
<line x1="244.10" y1="870.00" x2="272.80" y2="870.00" stroke="#1c1c1c" stroke-width="1.7"/>
<circle cx="86.8" cy="830.2" r="2.05" fill="#000"/>
<circle cx="82.8" cy="852.9" r="2.05" fill="#000"/>
<circle cx="90.8" cy="854.0" r="2.05" fill="#000"/>
<circle cx="86.8" cy="866.2" r="2.05" fill="#000"/>
<circle cx="90.8" cy="873.8" r="2.05" fill="#000"/>
<circle cx="82.8" cy="876.7" r="2.05" fill="#000"/>
<circle cx="98.5" cy="900.4" r="2.05" fill="#000"/>
<circle cx="82.8" cy="902.9" r="2.05" fill="#000"/>
<circle cx="90.8" cy="903.5" r="2.05" fill="#000"/>
<circle cx="86.8" cy="933.4" r="2.05" fill="#000"/>
<circle cx="67.6" cy="951.0" r="2.05" fill="#000"/>
<circle cx="75.2" cy="951.0" r="2.05" fill="#000"/>
<circle cx="82.8" cy="951.0" r="2.05" fill="#000"/>
<circle cx="90.8" cy="951.0" r="2.05" fill="#000"/>
<circle cx="98.5" cy="951.0" r="2.05" fill="#000"/>
<circle cx="106.5" cy="951.0" r="2.05" fill="#000"/>
<circle cx="172.7" cy="815.5" r="2.05" fill="#000"/>
<circle cx="164.7" cy="824.2" r="2.05" fill="#000"/>
<circle cx="172.7" cy="823.3" r="2.05" fill="#000"/>
<circle cx="180.4" cy="825.8" r="2.05" fill="#000"/>
<circle cx="172.7" cy="833.8" r="2.05" fill="#000"/>
<circle cx="172.7" cy="845.7" r="2.05" fill="#000"/>
<circle cx="172.7" cy="853.9" r="2.05" fill="#000"/>
<circle cx="164.7" cy="861.2" r="2.05" fill="#000"/>
<circle cx="172.7" cy="864.0" r="2.05" fill="#000"/>
<circle cx="180.4" cy="862.8" r="2.05" fill="#000"/>
<circle cx="168.6" cy="869.8" r="2.05" fill="#000"/>
<circle cx="176.8" cy="869.4" r="2.05" fill="#000"/>
<circle cx="180.4" cy="881.1" r="2.05" fill="#000"/>
<circle cx="172.7" cy="883.6" r="2.05" fill="#000"/>
<circle cx="164.7" cy="888.6" r="2.05" fill="#000"/>
<circle cx="180.4" cy="892.2" r="2.05" fill="#000"/>
<circle cx="172.7" cy="894.3" r="2.05" fill="#000"/>
<circle cx="168.6" cy="951.0" r="2.05" fill="#000"/>
<circle cx="176.8" cy="951.0" r="2.05" fill="#000"/>
<circle cx="258.3" cy="769.8" r="2.05" fill="#000"/>
<circle cx="258.3" cy="830.1" r="2.05" fill="#000"/>
<circle cx="258.3" cy="865.3" r="2.05" fill="#000"/>
<line x1="86.10" y1="735.40" x2="257.00" y2="735.40" stroke="#1c1c1c" stroke-width="1.4"/>
<path d="M171.50,730.80L171.50,727.70M171.50,730.80L174.45,729.84M171.50,730.80L173.32,733.31M171.50,730.80L169.68,733.31M171.50,730.80L168.55,729.84" stroke="#000" stroke-width="1.2" stroke-linecap="round" fill="none"/>
<line x1="86.10" y1="751.80" x2="171.50" y2="751.80" stroke="#1c1c1c" stroke-width="2.1"/>
<path d="M129.10,747.10L129.10,744.00M129.10,747.10L132.05,746.14M129.10,747.10L130.92,749.61M129.10,747.10L127.28,749.61M129.10,747.10L126.15,746.14" stroke="#000" stroke-width="1.2" stroke-linecap="round" fill="none"/>
<text transform="translate(350.83,666.90) scale(1.0400,1)" font-size="21" font-family='"Liberation Sans", sans-serif' font-weight="bold" fill="#141414">f</text>
<text transform="translate(427.41,665.70) scale(1.0157,1)" font-size="11.6" font-family='"Liberation Sans", sans-serif' font-weight="bold" fill="#141414">Ability to prevent bowel leakage</text>
<rect x="504.80" y="682.00" width="14.00" height="9.70" fill="#91bef9"/>
<text transform="translate(521.52,691.10) scale(1.0742,1)" font-size="11" font-family='"Liberation Sans", sans-serif' font-weight="bold" fill="#141414">Complete loss of control</text>
<rect x="504.80" y="694.90" width="14.00" height="9.60" fill="#fdbe7e"/>
<text transform="translate(521.71,703.90) scale(1.0709,1)" font-size="11" font-family='"Liberation Sans", sans-serif' font-weight="bold" fill="#141414">Altered neurological function</text>
<rect x="504.80" y="707.40" width="14.00" height="10.00" fill="#ff7f7f"/>
<text transform="translate(522.12,716.80) scale(1.0662,1)" font-size="11" font-family='"Liberation Sans", sans-serif' font-weight="bold" fill="#141414">Normal function</text>
<rect x="405.10" y="892.90" width="56.70" height="58.30" fill="#91bef9"/>
<rect x="405.10" y="892.90" width="56.70" height="1.3" fill="#86b8f8"/>
<rect x="405.10" y="892.90" width="1.8" height="58.30" fill="#76b0f7"/>
<rect x="460.00" y="892.90" width="1.8" height="58.30" fill="#76b0f7"/>
<rect x="490.90" y="836.90" width="57.00" height="114.30" fill="#fdbe7e"/>
<rect x="490.90" y="836.90" width="57.00" height="1.1" fill="#ff8c1a"/>
<rect x="490.90" y="836.90" width="1.1" height="114.30" fill="#ff8c1a"/>
<rect x="546.80" y="836.90" width="1.1" height="114.30" fill="#ff8c1a"/>
<rect x="576.30" y="822.90" width="57.10" height="128.30" fill="#ff7f7f"/>
<rect x="576.30" y="822.90" width="57.10" height="1.5" fill="#ff6666"/>
<rect x="576.30" y="822.90" width="1.7" height="128.30" fill="#ff6868"/>
<rect x="631.70" y="822.90" width="1.7" height="128.30" fill="#ff6868"/>
<line x1="376.20" y1="722.50" x2="376.20" y2="952.20" stroke="#2c2c2c" stroke-width="1.9"/>
<line x1="375.20" y1="951.20" x2="662.80" y2="951.20" stroke="#2c2c2c" stroke-width="1.9"/>
<line x1="372.20" y1="951.20" x2="376.20" y2="951.20" stroke="#2c2c2c" stroke-width="1.6"/>
<text transform="translate(364.08,955.57) scale(1.0000,1)" font-size="11.3" font-family='"Liberation Sans", sans-serif' font-weight="bold" fill="#141414">0</text>
<line x1="372.20" y1="905.62" x2="376.20" y2="905.62" stroke="#2c2c2c" stroke-width="1.6"/>
<text transform="translate(363.93,909.95) scale(1.0000,1)" font-size="11.3" font-family='"Liberation Sans", sans-serif' font-weight="bold" fill="#141414">1</text>
<line x1="372.20" y1="860.04" x2="376.20" y2="860.04" stroke="#2c2c2c" stroke-width="1.6"/>
<text transform="translate(364.07,864.33) scale(1.0000,1)" font-size="11.3" font-family='"Liberation Sans", sans-serif' font-weight="bold" fill="#141414">2</text>
<line x1="372.20" y1="814.46" x2="376.20" y2="814.46" stroke="#2c2c2c" stroke-width="1.6"/>
<text transform="translate(364.02,818.71) scale(1.0000,1)" font-size="11.3" font-family='"Liberation Sans", sans-serif' font-weight="bold" fill="#141414">3</text>
<line x1="372.20" y1="768.88" x2="376.20" y2="768.88" stroke="#2c2c2c" stroke-width="1.6"/>
<text transform="translate(363.68,773.09) scale(1.0000,1)" font-size="11.3" font-family='"Liberation Sans", sans-serif' font-weight="bold" fill="#141414">4</text>
<line x1="372.20" y1="723.30" x2="376.20" y2="723.30" stroke="#2c2c2c" stroke-width="1.6"/>
<text transform="translate(363.93,727.47) scale(1.0000,1)" font-size="11.3" font-family='"Liberation Sans", sans-serif' font-weight="bold" fill="#141414">5</text>
<text transform="translate(359.40,932.06) rotate(-90) scale(1.0133,1.0600)" font-size="13.3" font-family='"Liberation Sans", sans-serif' font-weight="bold" fill="#141414">Width of tissue bridges (mm)</text>
<line x1="433.30" y1="850.20" x2="433.30" y2="936.00" stroke="#2c2c2c" stroke-width="1.6"/>
<line x1="419.10" y1="850.20" x2="447.70" y2="850.20" stroke="#2c2c2c" stroke-width="1.7"/>
<line x1="419.10" y1="936.00" x2="447.70" y2="936.00" stroke="#2c2c2c" stroke-width="1.7"/>
<line x1="518.90" y1="800.00" x2="518.90" y2="873.00" stroke="#2c2c2c" stroke-width="1.6"/>
<line x1="505.00" y1="800.00" x2="533.30" y2="800.00" stroke="#2c2c2c" stroke-width="1.7"/>
<line x1="505.00" y1="873.00" x2="533.30" y2="873.00" stroke="#2c2c2c" stroke-width="1.7"/>
<line x1="604.90" y1="812.60" x2="604.90" y2="832.90" stroke="#2c2c2c" stroke-width="1.6"/>
<line x1="590.90" y1="812.60" x2="618.80" y2="812.60" stroke="#2c2c2c" stroke-width="1.7"/>
<line x1="590.90" y1="832.90" x2="618.80" y2="832.90" stroke="#2c2c2c" stroke-width="1.7"/>
<circle cx="429.5" cy="823.3" r="2.05" fill="#000"/>
<circle cx="437.3" cy="824.2" r="2.05" fill="#000"/>
<circle cx="433.3" cy="830.2" r="2.05" fill="#000"/>
<circle cx="433.3" cy="845.9" r="2.05" fill="#000"/>
<circle cx="425.7" cy="853.1" r="2.05" fill="#000"/>
<circle cx="433.3" cy="854.0" r="2.05" fill="#000"/>
<circle cx="441.0" cy="854.0" r="2.05" fill="#000"/>
<circle cx="437.3" cy="863.0" r="2.05" fill="#000"/>
<circle cx="421.9" cy="866.2" r="2.05" fill="#000"/>
<circle cx="429.5" cy="869.1" r="2.05" fill="#000"/>
<circle cx="437.3" cy="869.9" r="2.05" fill="#000"/>
<circle cx="429.5" cy="873.8" r="2.05" fill="#000"/>
<circle cx="437.3" cy="876.7" r="2.05" fill="#000"/>
<circle cx="437.3" cy="881.3" r="2.05" fill="#000"/>
<circle cx="429.5" cy="883.6" r="2.05" fill="#000"/>
<circle cx="437.3" cy="888.6" r="2.05" fill="#000"/>
<circle cx="429.5" cy="892.5" r="2.05" fill="#000"/>
<circle cx="437.3" cy="894.5" r="2.05" fill="#000"/>
<circle cx="421.9" cy="900.4" r="2.05" fill="#000"/>
<circle cx="429.5" cy="903.5" r="2.05" fill="#000"/>
<circle cx="437.3" cy="903.2" r="2.05" fill="#000"/>
<circle cx="433.3" cy="933.7" r="2.05" fill="#000"/>
<circle cx="406.8" cy="951.0" r="2.05" fill="#000"/>
<circle cx="414.4" cy="951.0" r="2.05" fill="#000"/>
<circle cx="421.9" cy="951.0" r="2.05" fill="#000"/>
<circle cx="429.5" cy="951.0" r="2.05" fill="#000"/>
<circle cx="437.3" cy="951.0" r="2.05" fill="#000"/>
<circle cx="444.8" cy="951.0" r="2.05" fill="#000"/>
<circle cx="452.4" cy="951.0" r="2.05" fill="#000"/>
<circle cx="460.0" cy="951.0" r="2.05" fill="#000"/>
<circle cx="518.9" cy="769.6" r="2.05" fill="#000"/>
<circle cx="518.9" cy="826.0" r="2.05" fill="#000"/>
<circle cx="518.9" cy="833.4" r="2.05" fill="#000"/>
<circle cx="515.2" cy="860.9" r="2.05" fill="#000"/>
<circle cx="515.2" cy="865.2" r="2.05" fill="#000"/>
<circle cx="523.0" cy="863.9" r="2.05" fill="#000"/>
<circle cx="604.9" cy="815.4" r="2.05" fill="#000"/>
<circle cx="604.9" cy="830.3" r="2.05" fill="#000"/>
<line x1="430.90" y1="735.00" x2="518.60" y2="735.00" stroke="#2c2c2c" stroke-width="1.9"/>
<path d="M475.00,730.10L475.00,727.00M475.00,730.10L477.95,729.14M475.00,730.10L476.82,732.61M475.00,730.10L473.18,732.61M475.00,730.10L472.05,729.14" stroke="#000" stroke-width="1.2" stroke-linecap="round" fill="none"/>
</svg>
</body></html>
